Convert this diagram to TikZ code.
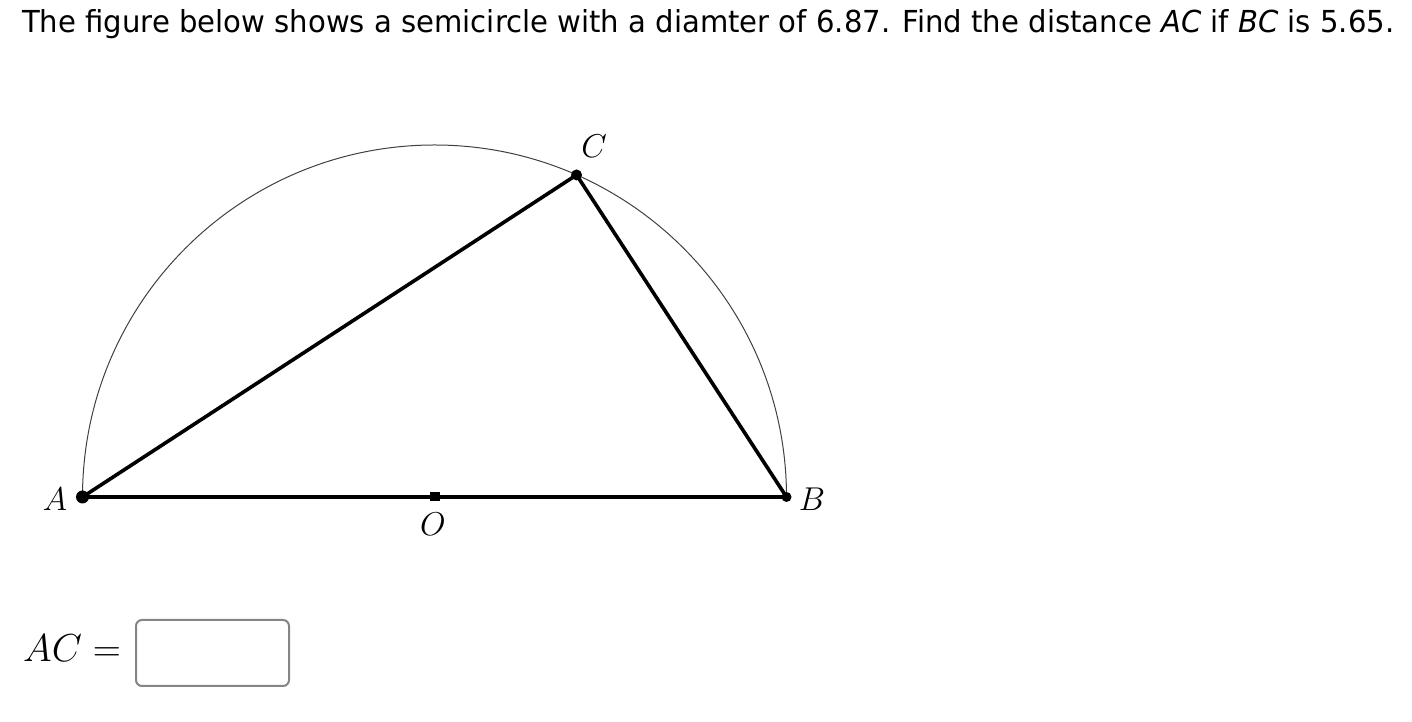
\RequirePackage{fix-cm}
\documentclass[tikz,border=0pt]{standalone}
\usepackage{fontspec}
\newfontfamily\titlefont{DejaVu Sans}
\usepackage{graphicx}
\usetikzlibrary{calc}
\begin{document}
\begin{tikzpicture}[x=1pt,y=1pt,
  seg/.style={line width=3.6pt},
  arcline/.style={line width=1pt, draw=black!75},
  dotc/.style={circle, fill=black, inner sep=0pt, minimum size=#1},
  dotsq/.style={rectangle, fill=black, inner sep=0pt, minimum width=10pt, minimum height=9pt},
  ptlabel/.style={anchor=base, inner sep=0pt, font=\fontsize{33}{40}\selectfont},
  ansbox/.style={draw=black!48, line width=2pt, rounded corners=6pt}
]
\useasboundingbox (0,0) rectangle (1412,722);
% title
\node[anchor=base west, inner sep=0pt] (title) at (22,689)
  {\resizebox{1372pt}{23pt}{\titlefont The figure below shows a semicircle with a diamter of 6.87. Find the distance \textit{AC} if \textit{BC} is 5.65.}};
% points
\coordinate (A) at (82.5,225);
\coordinate (B) at (786.5,225);
\coordinate (O) at (434.5,225);
\coordinate (C) at ($(O)+(66.2:352)$);
% semicircle
\draw[arcline] (A) arc[start angle=180, end angle=0, radius=352pt];
% triangle and diameter
\draw[seg] (A) -- (B);
\draw[seg] (A) -- (C) -- (B);
% dots
\node[dotc=13pt] (Ad) at (A) {};
\node[dotc=11pt] (Cd) at (C) {};
\node[dotc=10pt] (Bd) at (B) {};
\node[dotsq] (Od) at (O) {};
% labels
\node[ptlabel] (Al) at (55,211) {$A$};
\node[ptlabel] (Bl) at (812,211) {$B$};
\node[ptlabel] (Cl) at (594,564) {$C$};
\node[ptlabel] (Ol) at (433,186) {$O$};
% answer
\node[anchor=base west, inner sep=0pt, font=\fontsize{39}{46}\selectfont] (eq) at (23,60) {$AC=$};
\draw[ansbox] (136,36) rectangle (289,102);
\end{tikzpicture}
\end{document}
